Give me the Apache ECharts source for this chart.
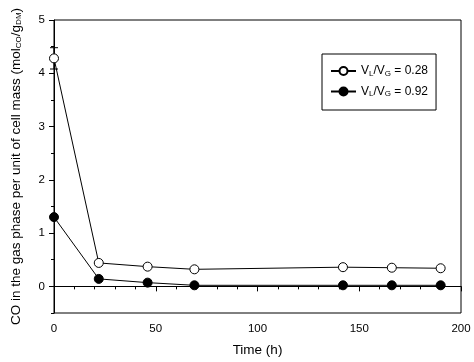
<!DOCTYPE html>
<html><head><meta charset="utf-8">
<script src="https://cdn.jsdelivr.net/npm/echarts@6/dist/echarts.min.js"></script>
<style>html,body{margin:0;padding:0;background:#fff}#c{width:474px;height:362px}</style>
</head><body><div id="c"></div>
<script>
const timeH = [0, 22, 46, 69, 142, 166, 190];
const ratio028 = [4.28, 0.44, 0.37, 0.32, 0.36, 0.35, 0.34];
const ratio092 = [1.30, 0.14, 0.07, 0.02, 0.02, 0.02, 0.02];
const errTime = [0];
const errLow = [4.08];
const errHigh = [4.48];
const xTicks = [0, 50, 100, 150, 200];
const yTicks = [0, 1, 2, 3, 4, 5];
const seriesNames = ['V{s|L}/V{s|G} = 0.28', 'V{s|L}/V{s|G} = 0.92'];

const FONT = 'Liberation Sans';
const chart = echarts.init(document.getElementById('c'), null, {renderer: 'canvas'});
const toPairs = (xs, ys) => xs.map((x, i) => [x, ys[i]]);
const subRich = {s: {fontSize: 8, fontFamily: FONT, color: '#000', verticalAlign: 'bottom', padding: [5, 0, 0, 0]}};

chart.setOption({
  animation: false,
  backgroundColor: '#fff',
  grid: [
    {left: 54, right: 13, top: 20, bottom: 49, show: true, borderColor: '#000', borderWidth: 1, backgroundColor: 'transparent'},
    {left: 54, right: 13, top: 20, bottom: 75.6, show: false}
  ],
  legend: {
    orient: 'vertical', left: 322, top: 54,
    borderColor: '#000', borderWidth: 1, padding: [11, 8, 12, 8],
    itemWidth: 25, itemHeight: 10, itemGap: 8,
    data: seriesNames,
    textStyle: {fontFamily: FONT, fontSize: 12, color: '#000', rich: subRich}
  },
  xAxis: [
    {
      type: 'value', gridIndex: 0, min: xTicks[0], max: xTicks[xTicks.length - 1], interval: 50,
      name: 'Time (h)', nameLocation: 'middle', nameGap: 30,
      nameTextStyle: {fontFamily: FONT, fontSize: 13.5, color: '#000'},
      axisLine: {lineStyle: {color: '#000', width: 1}},
      axisTick: {show: true, length: 5, lineStyle: {color: '#000'}},
      minorTick: {show: true, splitNumber: 5, length: 3, lineStyle: {color: '#000'}},
      axisLabel: {fontFamily: FONT, fontSize: 11.5, color: '#000', margin: 10},
      splitLine: {show: false}
    },
    {type: 'value', gridIndex: 1, min: 0, max: 200, show: false}
  ],
  yAxis: [
    {
      type: 'value', gridIndex: 0, min: -0.5, max: 5, interval: 0.5,
      name: 'CO in the gas phase per unit of cell mass (mol{s|CO}/g{s|DM})',
      nameLocation: 'middle', nameGap: 31,
      nameTextStyle: {fontFamily: FONT, fontSize: 13.5, color: '#000', rich: subRich},
      axisLine: {show: true, lineStyle: {color: '#000', width: 1}},
      axisTick: {show: true, length: 3, lineStyle: {color: '#000'}},
      axisLabel: {show: false},
      splitLine: {show: false}
    },
    {
      type: 'value', gridIndex: 1, min: yTicks[0], max: yTicks[yTicks.length - 1], interval: 1,
      axisLine: {show: false},
      axisTick: {show: true, length: 5, lineStyle: {color: '#000'}},
      axisLabel: {fontFamily: FONT, fontSize: 11.5, color: '#000', margin: 9},
      splitLine: {show: false}
    }
  ],
  series: [
    {
      type: 'custom', xAxisIndex: 0, yAxisIndex: 0, z: 1, silent: true,
      data: errTime.map((t, i) => [t, errLow[i], errHigh[i]]),
      encode: {x: 0, y: [1, 2]},
      renderItem: function (params, api) {
        const lo = api.coord([api.value(0), api.value(1)]);
        const hi = api.coord([api.value(0), api.value(2)]);
        const w = 4;
        const st = {stroke: '#000', lineWidth: 1};
        return {type: 'group', children: [
          {type: 'line', shape: {x1: lo[0], y1: lo[1], x2: hi[0], y2: hi[1]}, style: st},
          {type: 'line', shape: {x1: lo[0] - w, y1: lo[1], x2: lo[0] + w, y2: lo[1]}, style: st},
          {type: 'line', shape: {x1: hi[0] - w, y1: hi[1], x2: hi[0] + w, y2: hi[1]}, style: st}
        ]};
      }
    },
    {
      name: seriesNames[0], type: 'line', xAxisIndex: 0, yAxisIndex: 0, z: 3,
      data: toPairs(timeH, ratio028),
      symbol: 'circle', symbolSize: 9,
      lineStyle: {color: '#000', width: 1},
      itemStyle: {color: '#fff', borderColor: '#000', borderWidth: 1}
    },
    {
      name: seriesNames[1], type: 'line', xAxisIndex: 0, yAxisIndex: 0, z: 3,
      data: toPairs(timeH, ratio092),
      symbol: 'circle', symbolSize: 9,
      lineStyle: {color: '#000', width: 1},
      itemStyle: {color: '#000', borderColor: '#000', borderWidth: 1}
    }
  ]
});
</script></body></html>
